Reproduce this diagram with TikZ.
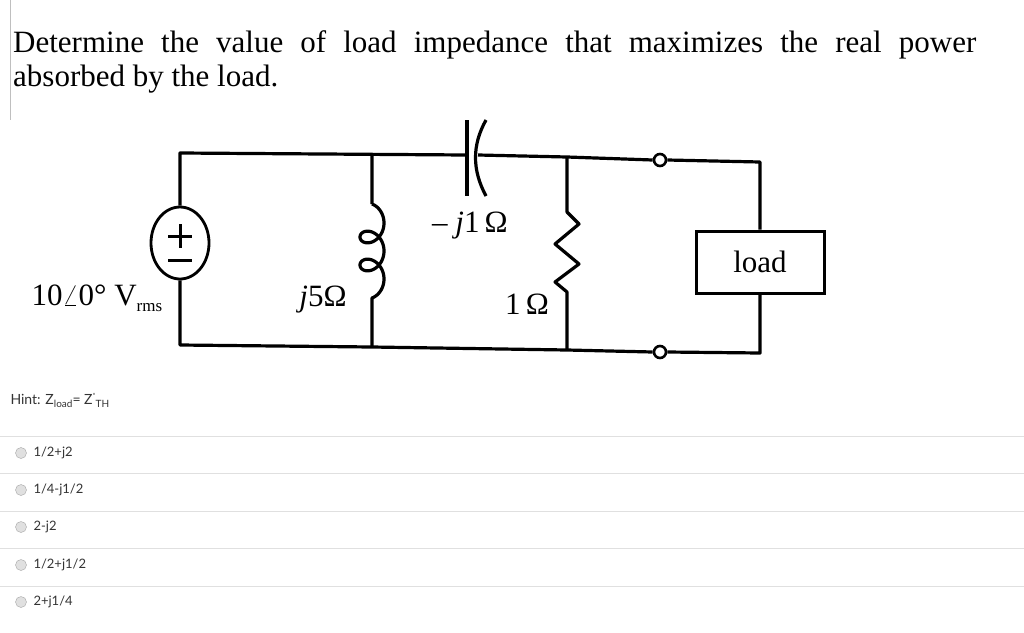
\documentclass[tikz,border=0pt]{standalone}
\usetikzlibrary{shapes.geometric}
\usepackage{fontspec}
\setmainfont{Liberation Serif}
\newfontfamily\uisans{Lato}
\begin{document}
\begin{tikzpicture}[x=1pt,y=-1pt,
  wire/.style={line width=3.2pt,line join=round},
  lbl/.style={font=\fontsize{31}{34}\selectfont},
  opt/.style={anchor=west,font=\uisans\fontsize{13}{15}\selectfont,text=black!80},
  sep/.style={draw=black!12,line width=0.8pt},
  radio/.style={circle,draw=black!35,fill=black!12,minimum size=11pt,inner sep=0pt}]
\useasboundingbox (0,0) rectangle (1024,632);
\fill[white] (0,0) rectangle (1024,632);
\draw[black!25,line width=0.8pt] (10,0) -- (10,120);
\node[anchor=west,font=\fontsize{31}{34}\selectfont,inner sep=1pt] (t1) at (12,45) {\makebox[963pt][s]{Determine the value of load impedance that maximizes the real power}};
\node[anchor=west,font=\fontsize{31}{34}\selectfont,inner sep=1pt] (t2) at (12,79) {absorbed by the load.};
% nodes
\coordinate (tl) at (180,153); \coordinate (bl) at (180,345);
\coordinate (li) at (372,153); \coordinate (lb) at (372,347);
\coordinate (ri) at (567,157); \coordinate (rb) at (567,350);
\node[circle,draw,line width=2.6pt,minimum size=12pt,inner sep=0pt,fill=white] (ta) at (660,160) {};
\node[circle,draw,line width=2.6pt,minimum size=12pt,inner sep=0pt,fill=white] (tb) at (660,352) {};
\coordinate (tr) at (760,162); \coordinate (br) at (760,353);
\node[draw,line width=3pt,minimum width=128pt,minimum height=62pt,lbl] (load) at (760,262) {load};
\node[ellipse,draw,line width=2.8pt,minimum width=58pt,minimum height=72pt,inner sep=0pt] (src) at (180,243) {};
\draw[line width=3pt] ([shift={(-12,-7)}]src.center) -- ([shift={(12,-7)}]src.center);
\draw[line width=3pt] ([shift={(0,-19)}]src.center) -- ([shift={(0,5)}]src.center);
\draw[line width=3pt] ([shift={(-12,17)}]src.center) -- ([shift={(12,17)}]src.center);
% wires
\draw[wire] (src.north) -- (tl) -- (466,155);
\draw[wire] (478,155) -- (ri) -- (ta.west);
\draw[wire] (ta.east) -- (tr) -- (load.north);
\draw[wire] (load.south) -- (br) -- (tb.east);
\draw[wire] (tb.west) -- (rb) -- (lb) -- (bl) -- (src.south);
% capacitor
\draw[wire] (467,120) -- (467,196);
\draw[wire] (486,120) .. controls (472,145) and (472,170) .. (486,196);
% inductor
\draw[wire] (li) -- (372,204) plot[smooth,domain=0:900,samples=150] ({372+12*sin(\x)}, {204+\x/900*70-12*sin(\x+90)+12}) -- (lb);
% resistor
\draw[wire] (ri) -- (567,212) -- (579,224) -- (555,244) -- (579,264) -- (555,282) -- (567,292) -- (rb);
% labels
\node[lbl] (lc) at (470,226) {– \textit{j}1\,Ω};
\node[lbl] (ll) at (323,300) {\textit{j}5Ω};
\node[lbl] (lr) at (527,304) {1\,Ω};
\node[anchor=west,lbl] (lv) at (28,298) {10$\angle$0° V\raisebox{-6pt}{\fontsize{17}{17}\selectfont rms}};
% hint and options
\node[opt,font=\uisans\fontsize{14}{16}\selectfont] (hint) at (7,400) {Hint: Z\raisebox{-3pt}{\fontsize{10}{10}\selectfont load}= Z\raisebox{6pt}{\fontsize{7}{7}\selectfont *}\raisebox{-3pt}{\fontsize{10}{10}\selectfont TH}};
\foreach \y in {436,473,511,548,586} \draw[sep] (0,\y) -- (1024,\y);
\foreach \y/\t/\n in {453/1\slash 2+j2/a,490/1\slash 4-j1\slash 2/b,527/2-j2/c,565/1\slash 2+j1\slash 2/d,602/2+j1\slash 4/e}{
  \node[radio] (r\n) at (21,\y) {};
  \node[opt] (o\n) at (30,\y) {\t};
}
\end{tikzpicture}
\end{document}
